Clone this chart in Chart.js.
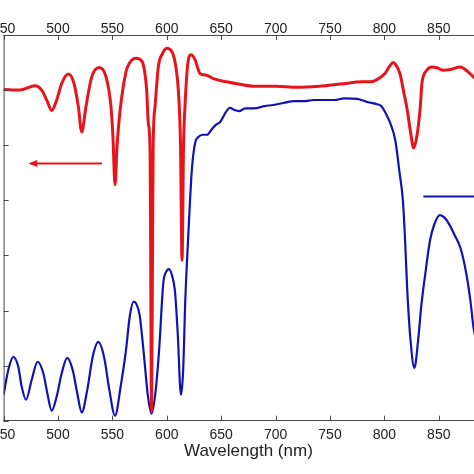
<!DOCTYPE html>
<html>
<head>
<meta charset="utf-8">
<script src="https://cdn.jsdelivr.net/npm/chart.js@4"></script>
<style>
  html, body { margin: 0; padding: 0; background: #fff; }
  #wrap { position: relative; width: 474px; height: 474px; overflow: hidden; }
  #chart { position: absolute; left: -40px; top: 0; }
</style>
</head>
<body>
<div id="wrap"><canvas id="chart" width="560" height="474"></canvas></div>
<script>
// wavelength axis (nm)
const xTicks = [450, 500, 550, 600, 650, 700, 750, 800, 850, 900];
const yTicks = [0, 1, 2, 3, 4, 5, 6, 7];

// red curve (left axis)
const redWl = [450, 465, 479, 485, 489.6, 494.2, 498.8, 503.4, 509.5, 514.7, 518.7, 521.8, 525.7, 531, 538, 544.1, 548.7, 550.5, 552.4, 554.3,
  557, 562.5, 566, 571.7, 575, 578.4, 581.5, 583, 584.6, 586, 587.4, 589.2, 592.2, 596, 600, 603, 606, 608.5, 610.6,
  612.6, 614, 615.4, 616.7, 619.8, 622.2, 626, 630.5, 636.7, 642.7, 655, 665.7, 680, 700, 720, 740, 760, 780, 787, 794,
  800.5, 805, 808.2, 811, 814.3, 817.4, 821, 824, 827, 830, 833, 834.5, 839, 843.5, 849, 854, 862, 869.5, 874, 878.7,
  885, 890, 900];
const redVal = [6.01, 6.00, 6.08, 6.00, 5.82, 5.63, 5.82, 6.12, 6.29, 6.12, 5.70, 5.24, 5.70, 6.24, 6.41, 6.24, 5.70, 5.15, 4.28, 5.00,
  5.62, 6.33, 6.50, 6.58, 6.56, 6.46, 6.00, 5.40, 4.91, 0.20, 4.91, 5.70, 6.42, 6.66, 6.76, 6.74, 6.64, 6.40, 6.00,
  5.00, 2.91, 5.00, 5.70, 6.55, 6.64, 6.55, 6.30, 6.27, 6.21, 6.15, 6.11, 6.07, 6.07, 6.05, 6.07, 6.11, 6.15, 6.15, 6.20,
  6.30, 6.44, 6.50, 6.44, 6.30, 6.00, 5.64, 5.24, 4.95, 5.18, 5.70, 6.12, 6.36, 6.42, 6.40, 6.36, 6.38, 6.42, 6.38, 6.30,
  6.20, 6.22, 6.22];

// blue curve (right axis)
const blueWl = [450, 454.3, 458.9, 463.5, 466.6, 470.6, 475.8, 481.3, 486.5, 490.2, 494.2, 498.8, 503.4, 508.5, 513.5, 517.7, 521.8, 526.9, 531.9, 537,
  542.3, 547.2, 552.4, 557.6, 562.5, 566, 569.5, 572, 575, 579, 582.5, 586, 589.5, 593, 596.8, 600, 602, 605, 607.5, 610,
  613, 615, 617, 620, 623, 626, 629, 633, 637, 641, 645, 649, 654, 658, 662, 667, 672, 680, 690, 698,
  708, 717, 726, 735, 745, 754, 763, 775, 785, 792, 797, 802, 806, 810, 814, 817, 819, 821, 824, 827.6,
  831, 834, 838, 842, 846, 851, 855, 860, 865, 870, 875, 879, 882, 886, 890, 895, 900];
const blueVal = [0.47, 0.92, 1.16, 0.98, 0.62, 0.38, 0.74, 1.07, 0.86, 0.50, 0.18, 0.44, 0.86, 1.14, 0.92, 0.50, 0.15, 0.56, 1.16, 1.43,
  1.16, 0.56, 0.09, 0.62, 1.28, 1.90, 2.16, 2.12, 1.92, 1.19, 0.47, 0.13, 0.50, 1.30, 2.50, 2.72, 2.75, 2.62, 2.35, 1.60,
  0.47, 0.90, 2.19, 3.46, 4.55, 5.04, 5.15, 5.19, 5.19, 5.28, 5.37, 5.42, 5.59, 5.68, 5.64, 5.62, 5.67, 5.67, 5.71, 5.73,
  5.77, 5.80, 5.80, 5.82, 5.82, 5.82, 5.85, 5.84, 5.78, 5.75, 5.71, 5.55, 5.37, 5.09, 4.49, 4.00, 3.28, 2.37, 1.46, 0.96,
  1.46, 2.10, 2.73, 3.28, 3.57, 3.73, 3.69, 3.55, 3.35, 3.13, 2.70, 2.19, 1.68, 1.37, 1.28, 1.37, 1.55];

// axis indicator arrows: [from nm, to nm, level]
const redArrow = [540.4, 472.7, 4.67];
const blueArrow = [835.8, 905, 4.07];

const RED = '#e8141b';
const BLUE = '#1212b4';
const FRAME = '#4a4a4a';

function toPoints(xs, ys) {
    return xs.map((x, i) => ({ x: x, y: ys[i] }));
}

// frame sides, inward tick marks and the two axis arrows
const framePlugin = {
    id: 'frame',
    afterDatasetsDraw(chart) {
        const ctx = chart.ctx;
        const a = chart.chartArea;
        const sx = chart.scales.x;
        const sy = chart.scales.y;
        ctx.save();
        ctx.strokeStyle = FRAME;
        ctx.lineWidth = 1;
        ctx.beginPath();
        ctx.moveTo(a.left + 0.5, a.top);
        ctx.lineTo(a.left + 0.5, a.bottom);
        ctx.moveTo(a.right - 0.5, a.top);
        ctx.lineTo(a.right - 0.5, a.bottom);
        xTicks.forEach(function(v) {
            const px = Math.round(sx.getPixelForValue(v)) + 0.5;
            ctx.moveTo(px, a.top);
            ctx.lineTo(px, a.top + 5);
            ctx.moveTo(px, a.bottom);
            ctx.lineTo(px, a.bottom - 5);
        });
        yTicks.forEach(function(v) {
            const py = Math.round(sy.getPixelForValue(v)) + 0.5;
            ctx.moveTo(a.left, py);
            ctx.lineTo(a.left + 5, py);
            ctx.moveTo(a.right, py);
            ctx.lineTo(a.right - 5, py);
        });
        ctx.stroke();

        drawArrow(ctx, sx, sy, redArrow, RED);
        drawArrow(ctx, sx, sy, blueArrow, BLUE);
        ctx.restore();
    }
};

function drawArrow(ctx, sx, sy, arr, color) {
    const x0 = sx.getPixelForValue(arr[0]);
    const x1 = sx.getPixelForValue(arr[1]);
    const y = sy.getPixelForValue(arr[2]);
    const dir = x1 < x0 ? -1 : 1;
    ctx.strokeStyle = color;
    ctx.fillStyle = color;
    ctx.lineWidth = 2;
    ctx.beginPath();
    ctx.moveTo(x0, y);
    ctx.lineTo(x1 - dir * 6, y);
    ctx.stroke();
    ctx.beginPath();
    ctx.moveTo(x1, y);
    ctx.lineTo(x1 - dir * 9, y - 3.5);
    ctx.lineTo(x1 - dir * 9, y + 3.5);
    ctx.closePath();
    ctx.fill();
}

const tickFont = { family: '"Liberation Sans", Arial, sans-serif', size: 14 };

new Chart(document.getElementById('chart'), {
    type: 'line',
    data: {
        datasets: [{
            label: 'red',
            data: toPoints(redWl, redVal),
            yAxisID: 'y',
            borderColor: RED,
            borderWidth: 3,
            pointRadius: 0,
            cubicInterpolationMode: 'monotone'
        }, {
            label: 'blue',
            data: toPoints(blueWl, blueVal),
            yAxisID: 'y1',
            borderColor: BLUE,
            borderWidth: 2.2,
            pointRadius: 0,
            cubicInterpolationMode: 'monotone'
        }]
    },
    options: {
        responsive: false,
        animation: false,
        devicePixelRatio: 1,
        layout: {
            padding: { left: 43.6, right: 26.8, top: 0, bottom: 0 }
        },
        plugins: {
            legend: { display: false },
            tooltip: { enabled: false }
        },
        scales: {
            x: {
                type: 'linear',
                position: 'bottom',
                min: 450,
                max: 900,
                afterBuildTicks: function(scale) {
                    scale.ticks = xTicks.map(v => ({ value: v }));
                },
                afterFit: function(scale) { scale.height = 53.3; },
                ticks: { color: '#222', font: tickFont, padding: 6, maxRotation: 0 },
                grid: { display: false, drawTicks: false },
                border: { display: true, color: FRAME, width: 1 },
                title: {
                    display: true,
                    text: 'Wavelength (nm)',
                    color: '#222',
                    font: { family: '"Liberation Sans", Arial, sans-serif', size: 17 },
                    padding: { top: 0, bottom: 12 }
                }
            },
            x2: {
                type: 'linear',
                position: 'top',
                min: 450,
                max: 900,
                afterBuildTicks: function(scale) {
                    scale.ticks = xTicks.map(v => ({ value: v }));
                },
                afterFit: function(scale) { scale.height = 35; },
                ticks: { color: '#222', font: tickFont, padding: -3, maxRotation: 0 },
                grid: { display: false, drawTicks: false },
                border: { display: true, color: FRAME, width: 1 }
            },
            y: {
                display: false,
                position: 'left',
                min: 0,
                max: 7
            },
            y1: {
                display: false,
                position: 'right',
                min: 0,
                max: 7
            }
        }
    },
    plugins: [framePlugin]
});
</script>
</body>
</html>
